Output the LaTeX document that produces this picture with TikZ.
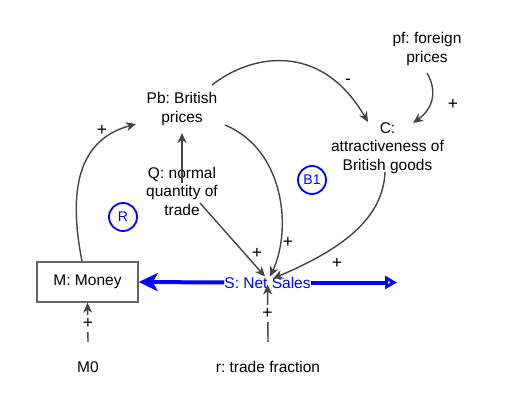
\documentclass[tikz,border=0pt]{standalone}
\usepackage{fontspec}
\setmainfont{Liberation Sans}
\usetikzlibrary{arrows.meta,calc}
\definecolor{ln}{HTML}{444444}
\definecolor{bx}{HTML}{666666}
\definecolor{bl}{HTML}{0000FF}
\frenchspacing
\begin{document}
\begin{tikzpicture}[x=1pt,y=-1pt,
  var/.style={align=center,inner sep=0pt,font=\frenchspacing\fontsize{15.5}{18.5}\selectfont},
  sgn/.style={inner sep=1.5pt,font=\fontsize{17.5}{18}\selectfont},
  link/.style={draw=ln,line width=1.4pt,-{Stealth[length=10pt,width=9pt,inset=3pt]}},
  loopc/.style={draw=bl,line width=1.8pt,circle,minimum size=28pt,inner sep=0pt,text=bl,font=\fontsize{14}{15}\selectfont},
  flow/.style={draw=bl,line width=4pt}
]
\useasboundingbox (0,0) rectangle (514,414);
% nodes
\node[var] (Pb) at (182,109) {Pb: British\\prices};
\node[var] (Q) at (182,191) {Q: normal\\quantity of\\trade};
\node[var] (C) at (387.5,148) {C:\\attractiveness of\\British goods};
\node[var] (pf) at (427,49) {pf: foreign\\prices};
\node[var,draw=bx,line width=1.4pt,minimum width=101pt,minimum height=40pt] (M) at (87.5,282) {M: Money};
\node[var] (M0) at (88,367) {M0};
\node[var] (r) at (268,367) {r: trade fraction};
\node[var,text=bl,fill=white] (S) at (267.5,282.5) {S: Net Sales};
\coordinate (sink) at (397,282.5);
\node[loopc] (R) at (123,217) {R};
\node[loopc] (B1) at (312,180) {B1};
% flows
\draw[flow,-{Stealth[length=19pt,width=18pt,inset=5pt]}] (S.west) -- (M.east);
\draw[flow,-{Triangle[open,length=12pt,width=13pt]}] (S.east) -- (sink);
% links
\draw[link] ($(Pb.center)+(30,-24)$) .. controls (250,55) and (320,40) .. ($(C.center)+(-19.5,-26)$);
\draw[link] ($(pf.center)+(0,24)$) .. controls (437,90) and (434,108) .. ($(C.center)+(25.5,-25)$);
\draw[link] ($(Pb.center)+(43,16)$) .. controls (285,150) and (292,230) .. ($(S.center)+(2.5,-6)$);
\draw[link] ($(Q.center)+(18,12)$) -- ($(S.center)+(-2.5,-6)$);
\draw[link] ($(C.center)+(-2.5,24)$) .. controls (383,220) and (340,250) .. ($(S.center)+(5.5,-4)$);
\draw[link] ($(M.north)+(-5.5,0)$) .. controls (68,190) and (78,140) .. ($(Pb.center)+(-46,15)$);
\draw[link] ($(Q.center)+(0,-8)$) -- ($(Pb.center)+(0,24)$);
\draw[link] ($(r.center)+(0,-25)$) -- ($(S.center)+(0,2)$);
\draw[link] ($(M0.center)+(0,-25)$) -- (M.south);
% signs
\node[sgn] (s1) at (102,130) {+};
\node[sgn] (s2) at (348,82) {-};
\node[sgn] (s3) at (453,104) {+};
\node[sgn] (s4) at (257,253) {+};
\node[sgn] (s5) at (288,242) {+};
\node[sgn] (s6) at (337,263) {+};
\node[sgn,fill=white,minimum height=17pt] (s7) at (267.5,313) {+};
\node[sgn,fill=white,minimum height=17pt] (s8) at (88,323) {+};
\end{tikzpicture}
\end{document}
